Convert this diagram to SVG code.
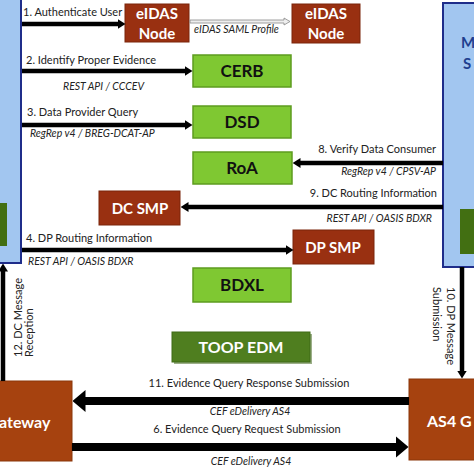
<svg xmlns="http://www.w3.org/2000/svg" width="474" height="474" viewBox="0 0 474 474">
<style>
.lbl{font-family:Lato,"Open Sans",sans-serif;font-size:11px;fill:#222}
.it{font-family:Lato,"Open Sans",sans-serif;font-size:10.5px;font-style:italic;fill:#222}
.bx{font-family:Lato,"Open Sans",sans-serif;font-weight:bold;text-anchor:middle}
.green rect{fill:#7fc832;stroke:#5d9c1f;stroke-width:1.5}
.green text{fill:#111;font-size:17px}
.brown rect{fill:#993011;stroke:#7a240b;stroke-width:1}
.brown text{fill:#fff;font-size:15px}
.gw rect{fill:#a6420f;stroke:#8a360b;stroke-width:1}
.gw text{fill:#fff;font-size:16px}
.blue rect.o{fill:#a2c6f0;stroke:#1f2d8a;stroke-width:2}
.blue rect.i{fill:#426f12}
.conn line{stroke:#000;stroke-width:4.5}
.conn line.thick{stroke-width:8}
</style>
<defs>
<marker id="ah" markerUnits="userSpaceOnUse" viewBox="0 0 8 10" markerWidth="8" markerHeight="10" refX="0.5" refY="5" orient="auto"><path d="M0,0 L8,5 L0,10 z" fill="#000"/></marker>
<marker id="ahb" markerUnits="userSpaceOnUse" viewBox="0 0 13 22" markerWidth="13" markerHeight="22" refX="0.5" refY="11" orient="auto"><path d="M0,0 L13,11 L0,22 z" fill="#000"/></marker>
</defs>
<rect width="474" height="474" fill="#fff"/>

<g id="dc-system" class="blue">
<rect class="o" x="-5" y="-5" width="26" height="268"/>
<rect class="i" x="-2" y="203" width="9" height="43"/>
</g>
<g id="dp-system" class="blue">
<rect class="o" x="443" y="3" width="40" height="264"/>
<rect class="i" x="460" y="209" width="20" height="45"/>
<text x="461" y="48" font-family="Lato,sans-serif" font-weight="bold" font-size="15" fill="#1f3f8f">M</text>
<text x="463" y="69" font-family="Lato,sans-serif" font-weight="bold" font-size="15" fill="#1f3f8f">S</text>
</g>

<g id="eidas1" class="brown"><rect x="125" y="4" width="64" height="38"/><text class="bx" x="157" y="19">eIDAS</text><text class="bx" x="157" y="39">Node</text></g>
<g id="eidas2" class="brown"><rect x="292" y="4" width="68" height="39"/><text class="bx" x="326" y="19">eIDAS</text><text class="bx" x="326" y="39">Node</text></g>
<g id="cerb" class="green"><rect x="193" y="55" width="98" height="32"/><text class="bx" x="242" y="77">CERB</text></g>
<g id="dsd" class="green"><rect x="193" y="106" width="98" height="32"/><text class="bx" x="242" y="128">DSD</text></g>
<g id="roa" class="green"><rect x="193" y="152" width="99" height="32"/><text class="bx" x="242" y="174">RoA</text></g>
<g id="dc-smp" class="brown"><rect x="99" y="191" width="81" height="34"/><text class="bx" x="140" y="214">DC SMP</text></g>
<g id="dp-smp" class="brown"><rect x="293" y="230" width="81" height="34"/><text class="bx" x="333" y="253">DP SMP</text></g>
<g id="bdxl" class="green"><rect x="193" y="268" width="98" height="34"/><text class="bx" x="242" y="291">BDXL</text></g>
<g id="toop-edm">
<rect x="174" y="334" width="138" height="30" fill="#3a5f14" opacity="0.5"/>
<rect x="172" y="332" width="138" height="30" fill="#4f7e1f" stroke="#3f6a16" stroke-width="1"/>
<text class="bx" x="241" y="353" fill="#fff" font-size="16">TOOP EDM</text>
</g>
<g id="gw-left" class="gw"><rect x="-5" y="381" width="77" height="80"/><text x="-1" y="428" font-family="Lato,sans-serif" font-weight="bold">ateway</text></g>
<g id="gw-right" class="gw"><rect x="409" y="379" width="70" height="81"/><text x="427" y="427" font-family="Lato,sans-serif" font-weight="bold" font-size="15.5">AS4 G</text></g>

<g id="connectors" class="conn">
<line x1="22" y1="24" x2="118" y2="24" marker-end="url(#ah)"/>
<path d="M190,20 L284,20 L284,18 L290,21.5 L284,25 L284,23 L190,23 z" fill="#eee" stroke="#888" stroke-width="0.8"/>
<line x1="22" y1="71" x2="185" y2="71" marker-end="url(#ah)"/>
<line x1="22" y1="125" x2="185" y2="125" marker-end="url(#ah)"/>
<line x1="443" y1="163" x2="300" y2="163" marker-end="url(#ah)"/>
<line x1="443" y1="207" x2="188" y2="207" marker-end="url(#ah)"/>
<line x1="22" y1="250" x2="286" y2="250" marker-end="url(#ah)"/>
<line x1="462" y1="267" x2="462" y2="371" marker-end="url(#ah)"/>
<line x1="3" y1="381" x2="3" y2="271" marker-end="url(#ah)"/>
<line class="thick" x1="409" y1="401" x2="85" y2="401" marker-end="url(#ahb)"/>
<line class="thick" x1="72" y1="447" x2="396" y2="447" marker-end="url(#ahb)"/>
</g>

<g id="labels">
<text class="lbl" x="23" y="16">1. Authenticate User</text>
<text class="it" x="194" y="33">eIDAS SAML Profile</text>
<text class="lbl" x="26" y="64">2. Identify Proper Evidence</text>
<text class="it" x="63" y="90">REST API / CCCEV</text>
<text class="lbl" x="27" y="116">3. Data Provider Query</text>
<text class="it" x="30" y="137">RegRep v4 / BREG-DCAT-AP</text>
<text class="lbl" x="436" y="153" text-anchor="end">8. Verify Data Consumer</text>
<text class="it" x="436" y="175" text-anchor="end">RegRep v4 / CPSV-AP</text>
<text class="lbl" x="437" y="197" text-anchor="end">9. DC Routing Information</text>
<text class="it" x="432" y="222" text-anchor="end">REST API / OASIS BDXR</text>
<text class="lbl" x="26" y="242">4. DP Routing Information</text>
<text class="it" x="28" y="265">REST API / OASIS BDXR</text>
<text class="lbl" transform="translate(22,357) rotate(-90)">12. DC Message</text>
<text class="lbl" transform="translate(33,357) rotate(-90)">Reception</text>
<text class="lbl" transform="translate(447,287) rotate(90)">10. DP Message</text>
<text class="lbl" transform="translate(433,287) rotate(90)">Submission</text>
<text class="lbl" x="249" y="387" text-anchor="middle">11. Evidence Query Response Submission</text>
<text class="it" x="250" y="415" text-anchor="middle">CEF eDelivery AS4</text>
<text class="lbl" x="247" y="433" text-anchor="middle">6. Evidence Query Request Submission</text>
<text class="it" x="251" y="465" text-anchor="middle">CEF eDelivery AS4</text>
</g>
</svg>
